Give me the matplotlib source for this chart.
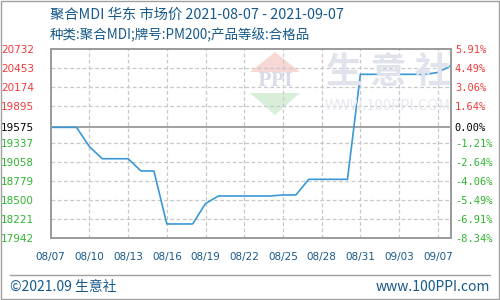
import matplotlib.pyplot as plt
from matplotlib.patches import Polygon, Rectangle

plt.rcParams['font.family'] = ['Noto Sans CJK SC', 'DejaVu Sans']

# daily prices 08/07 .. 09/07
prices = [19575, 19575, 19575, 19290, 19112, 19112, 19112, 18931, 18931, 18149,
          18149, 18149, 18451, 18562, 18562, 18562, 18562, 18562, 18577, 18577,
          18808, 18808, 18808, 18808, 20358, 20358, 20358, 20358, 20358, 20358,
          20385, 20485]
x_ticks = [0, 3, 6, 9, 12, 15, 18, 21, 24, 27, 30]
x_labels = ['08/07', '08/10', '08/13', '08/16', '08/19', '08/22',
            '08/25', '08/28', '08/31', '09/03', '09/07']
y_ticks = [17942, 18221, 18500, 18779, 19058, 19337, 19575,
           19895, 20174, 20453, 20732]
pct_labels = ['-8.34%', '-6.91%', '-5.49%', '-4.06%', '-2.64%', '-1.21%', '0.00%',
              '1.64%', '3.06%', '4.49%', '5.91%']
base = 19575

red = '#f23a3a'
green = '#2fb52f'
blue_txt = '#17598a'

fig = plt.figure(figsize=(5, 3), dpi=100)
fig.patch.set_facecolor('white')
fig.add_artist(Rectangle((0.001, 0.002), 0.997, 0.995, transform=fig.transFigure,
                         fill=False, edgecolor='#a0a0a0', lw=1))

ax = fig.add_axes([0.1014, 0.2067, 0.8, 0.63])

# watermark
fig.add_artist(Polygon([[250/500, 1-72/300], [300/500, 1-72/300], [275/500, 1-52/300]],
                       closed=True, transform=fig.transFigure, color='#f8d8d5', lw=0, zorder=0))
fig.add_artist(Polygon([[250/500, 1-93/300], [300/500, 1-93/300], [275/500, 1-115/300]],
                       closed=True, transform=fig.transFigure, color='#d8eed8', lw=0, zorder=0))
fig.text(275/500, 1-81/300, 'PPI', ha='center', va='center', fontsize=13,
         family='DejaVu Serif', weight='bold', color='#d8dce8', zorder=0)
fig.text(388/500, 1-72/300, '生 意 社', ha='center', va='center', fontsize=26,
         weight='bold', color='#e0e3ec', zorder=0)
fig.text(388/500, 1-106/300, 'WWW.100PPI.COM', ha='center', va='center', fontsize=10.5,
         color='#e6e8ef', zorder=0)
ax.patch.set_alpha(0)

ax.plot(range(len(prices)), prices, color='#3a98d8', lw=1.2, zorder=3)
ax.set_xlim(0, 31)
ax.set_ylim(17942, 20732)

for t in x_ticks[1:]:
    ax.axvline(t, color='#c8c8c8', ls=(0, (3, 2)), lw=0.9, zorder=1)
for v in y_ticks[1:-1]:
    if v == base:
        ax.axhline(v, color='#9a9a9a', lw=1.3, zorder=2)
    else:
        ax.axhline(v, color='#c8c8c8', ls=(0, (3, 2)), lw=0.9, zorder=1)

ax.set_xticks(x_ticks)
ax.set_xticklabels(x_labels, fontsize=7.5, color=blue_txt, family='DejaVu Sans')
ax.set_yticks(y_ticks)
ax.set_yticklabels([str(v) for v in y_ticks], fontsize=7.5, family='DejaVu Sans')
ax.tick_params(axis='x', length=0, pad=10)
ax.tick_params(axis='y', length=0, pad=12)

ax2 = ax.twinx()
ax2.set_ylim(17942, 20732)
ax2.set_yticks(y_ticks)
ax2.set_yticklabels(pct_labels, fontsize=7.5, family='DejaVu Sans Mono')
ax2.tick_params(axis='y', length=0, pad=3)

for lab1, lab2, v in zip(ax.get_yticklabels(), ax2.get_yticklabels(), y_ticks):
    c = 'black' if v == base else (red if v > base else green)
    lab1.set_color(c)
    lab2.set_color(c)

for a in (ax, ax2):
    for s in a.spines.values():
        s.set_color('#9a9a9a')
        s.set_linewidth(1.2)

fig.text(50/500, 1-15/300, '聚合MDI 华东 市场价 2021-08-07 - 2021-09-07',
         fontsize=10.3, color=blue_txt, va='center', ha='left')
fig.text(50/500, 1-35/300, '种类:聚合MDI;牌号:PM200;产品等级:合格品',
         fontsize=9.7, color=blue_txt, va='center', ha='left')

fig.add_artist(plt.Line2D([10/500, 490/500], [1-275/300, 1-275/300],
                          transform=fig.transFigure, color='#a0a0a0', lw=1))
fig.text(10/500, 1-287/300, '©2021.09 生意社', fontsize=10, color=blue_txt,
         va='center', ha='left')
fig.text(490/500, 1-287/300, 'www.100PPI.com', fontsize=10, color=blue_txt,
         va='center', ha='right')

fig.savefig('out.png', dpi=100)
